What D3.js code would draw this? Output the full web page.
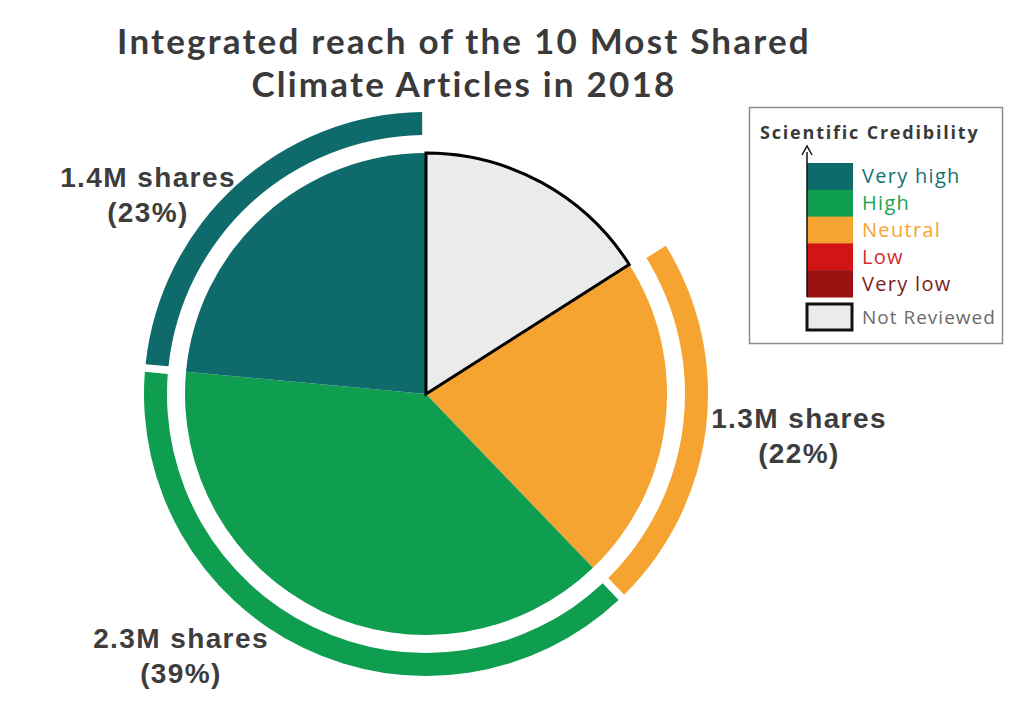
<!DOCTYPE html>
<html lang="en">
<head>
    <meta charset="UTF-8"/>
    <title>Integrated reach</title>
    <script src="https://d3js.org/d3.v7.min.js" charset="utf-8"></script>
    <style type="text/css">
        body { margin: 0; background: #ffffff; }
        text { font-family: "Open Sans", "Lato", sans-serif; }
        .title { font-family: "Lato", "Open Sans", sans-serif; letter-spacing: 2.2px; }
        .lbl { font-family: "Liberation Sans", Arial, sans-serif; font-weight: bold; font-size: 28px; fill: #3d3d3d; letter-spacing: 1.4px; }
    </style>
</head>
<body>
<svg width="1024" height="711"></svg>
<script type="text/javascript">
    // slices clockwise from 12 o'clock
    var categories = ["Not Reviewed", "Neutral", "High", "Very high"];
    var shares = [0.95, 1.3, 2.3, 1.4];   // millions
    var shareLabels = ["", "1.3M shares", "2.3M shares", "1.4M shares"];
    var pctLabels = ["", "(22%)", "(39%)", "(23%)"];

    var legendCats = ["Very high", "High", "Neutral", "Low", "Very low"];

    var fillColor = {
        "Very high": "#0f6b6b", "High": "#0f9e50", "Neutral": "#f5a431",
        "Low": "#d11515", "Very low": "#9b1212", "Not Reviewed": "#ebebeb"
    };
    var textColor = {
        "Very high": "#137272", "High": "#19a453", "Neutral": "#f5a431",
        "Low": "#d32b2b", "Very low": "#7d1c1c", "Not Reviewed": "#6b6b6b"
    };

    var svg = d3.select("svg");
    var cx = 426, cy = 394, radius = 241;

    var titleLines = ["Integrated reach of the 10 Most Shared", "Climate Articles in 2018"];
    svg.selectAll(".title")
        .data(titleLines)
        .enter().append("text")
        .attr("class", "title")
        .attr("x", 464).attr("y", function(d, i) { return 54 + i * 43; })
        .attr("text-anchor", "middle")
        .style("font-size", "35px").style("font-weight", "bold").style("fill", "#3a3a3a")
        .text(function(d) { return d; });

    var g = svg.append("g").attr("transform", "translate(" + cx + "," + cy + ")");

    var pie = d3.pie().sort(null).value(function(d) { return d; });
    var arcs = pie(shares);

    var path = d3.arc().innerRadius(0).outerRadius(radius);
    var ring = d3.arc().innerRadius(259).outerRadius(282).padAngle(0.02);

    g.selectAll(".slice")
        .data(arcs)
        .enter().append("path")
        .attr("class", "slice")
        .attr("d", path)
        .attr("fill", function(d, i) { return fillColor[categories[i]]; })
        .attr("stroke", function(d, i) { return i === 0 ? "#000" : "none"; })
        .attr("stroke-width", 3);

    // bring gray slice outline on top
    g.select(".slice").raise();

    g.selectAll(".ring")
        .data(arcs.filter(function(d, i) { return i > 0; }))
        .enter().append("path")
        .attr("class", "ring")
        .attr("d", ring)
        .attr("fill", function(d) { return fillColor[categories[d.index]]; });

    // labels
    var labelPos = [null, [799, 428], [181, 648], [148, 187]];
    for (var i = 1; i < categories.length; i++) {
        svg.append("text").attr("class", "lbl")
            .attr("x", labelPos[i][0]).attr("y", labelPos[i][1])
            .attr("text-anchor", "middle").text(shareLabels[i]);
        svg.append("text").attr("class", "lbl")
            .attr("x", labelPos[i][0]).attr("y", labelPos[i][1] + 35)
            .attr("text-anchor", "middle").text(pctLabels[i]);
    }

    // legend
    var lg = svg.append("g");
    lg.append("rect")
        .attr("x", 749.5).attr("y", 107.5).attr("width", 253).attr("height", 236)
        .attr("fill", "#fff").attr("stroke", "#8c8c8c").attr("stroke-width", 1.5);
    lg.append("text")
        .attr("x", 760).attr("y", 139)
        .style("font-size", "18px").style("font-weight", "bold").style("fill", "#3a3a3a")
        .style("letter-spacing", "1.8px")
        .text("Scientific Credibility");

    var y = d3.scaleBand().domain(legendCats).range([163, 297]);
    lg.selectAll(".sw")
        .data(legendCats)
        .enter().append("rect")
        .attr("x", 807).attr("y", function(d) { return y(d); })
        .attr("width", 46).attr("height", y.bandwidth() + 0.5)
        .attr("fill", function(d) { return fillColor[d]; });
    lg.selectAll(".lt")
        .data(legendCats)
        .enter().append("text")
        .attr("x", 862).attr("y", function(d) { return y(d) + y.bandwidth() / 2 + 7; })
        .style("font-size", "20px").style("letter-spacing", "1.3px")
        .style("fill", function(d) { return textColor[d]; })
        .text(function(d) { return d; });

    // arrow
    lg.append("line")
        .attr("x1", 807).attr("x2", 807).attr("y1", 297).attr("y2", 152)
        .attr("stroke", "#111").attr("stroke-width", 1.5);
    lg.append("path")
        .attr("d", "M802,155 L807,146 L812,155")
        .attr("fill", "none").attr("stroke", "#111").attr("stroke-width", 1.5);

    lg.append("rect")
        .attr("x", 807).attr("y", 304).attr("width", 45).attr("height", 26)
        .attr("fill", fillColor["Not Reviewed"]).attr("stroke", "#111").attr("stroke-width", 3);
    lg.append("text")
        .attr("x", 862).attr("y", 324)
        .style("font-size", "19px").style("letter-spacing", "1px")
        .style("fill", textColor["Not Reviewed"])
        .text("Not Reviewed");
</script>
</body>
</html>
